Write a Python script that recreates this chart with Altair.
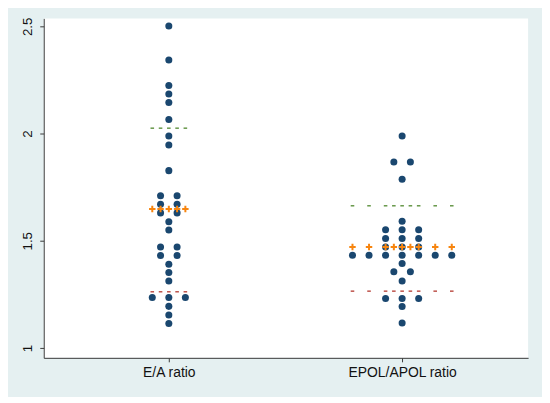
import altair as alt
import pandas as pd

# ---- data ----
categories = ["E/A ratio", "EPOL/APOL ratio"]

ea_ratio = [2.501, 2.343, 2.224, 2.184, 2.145, 2.065, 1.988, 1.946, 1.827,
            1.710, 1.710, 1.670, 1.670, 1.630, 1.630, 1.589, 1.550,
            1.471, 1.471, 1.431, 1.431, 1.390, 1.352, 1.312,
            1.235, 1.235, 1.235, 1.194, 1.154, 1.114]

epol_apol_ratio = [1.988, 1.867, 1.867, 1.787, 1.591,
                   1.551, 1.551, 1.551, 1.511, 1.511, 1.511,
                   1.471, 1.471, 1.471,
                   1.432, 1.432, 1.432, 1.432, 1.432, 1.432, 1.432,
                   1.394, 1.355, 1.355, 1.312,
                   1.231, 1.231, 1.231, 1.193, 1.116]

means = [1.648, 1.471]
upper = [2.025, 1.663]
lower = [1.262, 1.265]

# ---- dot-plot layout (horizontal stacking of equal values) ----
HALF = 0.03546  # half of the dot spacing, in x units

dot_rows = []
marker_rows = []
for gi, vals in enumerate([ea_ratio, epol_apol_ratio]):
    idx = gi + 1
    counts = {}
    for v in vals:
        counts[v] = counts.get(v, 0) + 1
    used = set()
    for v, k in counts.items():
        for i in range(k):
            off = 2 * i - (k - 1)
            used.add(off)
            dot_rows.append({"x": idx + off * HALF, "value": v, "group": categories[gi]})
    for off in sorted(used):
        x = idx + off * HALF
        marker_rows.append({"x": x, "value": means[gi], "kind": "mean"})
        marker_rows.append({"x": x, "value": upper[gi], "kind": "upper"})
        marker_rows.append({"x": x, "value": lower[gi], "kind": "lower"})

dots = pd.DataFrame(dot_rows)
marks = pd.DataFrame(marker_rows)

FONT = "Liberation Sans"
label_expr = f"datum.value == 1 ? '{categories[0]}' : '{categories[1]}'"

xscale = alt.Scale(domain=[0.4638, 2.54], nice=False, zero=False)
yscale = alt.Scale(domain=[0.954, 2.537], nice=False, zero=False)

xenc = alt.X("x:Q", scale=xscale,
             axis=alt.Axis(values=[1, 2], labelExpr=label_expr, title=None, grid=False,
                           domainColor="#3a3a3a", tickColor="#3a3a3a", tickSize=4,
                           labelFont=FONT, labelFontSize=14, labelColor="#111111",
                           labelPadding=4, labelBaseline="top"))
yenc = alt.Y("value:Q", scale=yscale,
             axis=alt.Axis(values=[1, 1.5, 2, 2.5], labelExpr="'' + datum.value", title=None,
                           grid=False, domainColor="#3a3a3a", tickColor="#3a3a3a", tickSize=4,
                           labelFont=FONT, labelFontSize=13.5, labelColor="#111111",
                           labelAngle=270, labelAlign="center", labelBaseline="bottom",
                           labelPadding=5))

dot_layer = alt.Chart(dots).mark_point(
    filled=True, shape="circle", size=50, color="#1A476F", opacity=1
).encode(x=xenc, y=yenc)

dash_layer_up = alt.Chart(marks).transform_filter(alt.datum.kind == "upper").mark_point(
    shape="M-1,0H1", size=13, stroke="#5A8F3A", strokeWidth=1.4, filled=False, opacity=1
).encode(x="x:Q", y="value:Q")

dash_layer_lo = alt.Chart(marks).transform_filter(alt.datum.kind == "lower").mark_point(
    shape="M-1,0H1", size=13, stroke="#B8453C", strokeWidth=1.4, filled=False, opacity=1
).encode(x="x:Q", y="value:Q")

plus_layer = alt.Chart(marks).transform_filter(alt.datum.kind == "mean").mark_point(
    shape="M-1,0H1M0,-1V1", size=42, stroke="#F7850F", strokeWidth=2, filled=False, opacity=1
).encode(x="x:Q", y="value:Q")

chart = alt.layer(dot_layer, dash_layer_up, dash_layer_lo, plus_layer).properties(
    width=488, height=342,
    autosize=alt.AutoSizeParams(type="none"),
    padding={"left": 36, "top": 9, "right": 14, "bottom": 38},
    background="#E5F0F1",
).configure_view(fill="white", strokeWidth=0)

chart.save("out.html", embed_options={"renderer": "svg", "actions": False})
